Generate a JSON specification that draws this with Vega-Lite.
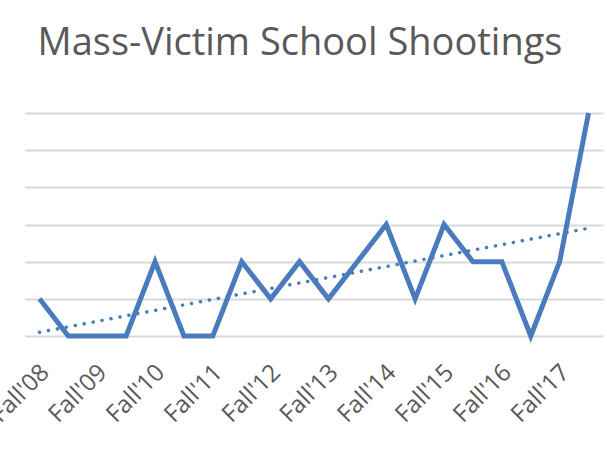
{
  "$schema": "https://vega.github.io/schema/vega-lite/v6.json",
  "width": 578,
  "height": 223,
  "autosize": "none",
  "padding": {"left": 25, "top": 113, "right": 4, "bottom": 118},
  "background": "white",
  "title": {
    "text": "Mass-Victim School Shootings",
    "font": "Open Sans",
    "fontSize": 38,
    "fontWeight": "normal",
    "color": "#595959",
    "anchor": "middle",
    "baseline": "alphabetic",
    "offset": 10,
    "dx": -14
  },
  "config": {
    "view": {"stroke": null},
    "axis": {"labelFont": "Open Sans", "labelColor": "#595959", "gridColor": "#d9d9d9", "gridWidth": 2}
  },
  "datasets": {
    "shootings": [
      {"semester": "Fall'08", "incidents": 1},
      {"semester": "Spring'09", "incidents": 0},
      {"semester": "Fall'09", "incidents": 0},
      {"semester": "Spring'10", "incidents": 0},
      {"semester": "Fall'10", "incidents": 2},
      {"semester": "Spring'11", "incidents": 0},
      {"semester": "Fall'11", "incidents": 0},
      {"semester": "Spring'12", "incidents": 2},
      {"semester": "Fall'12", "incidents": 1},
      {"semester": "Spring'13", "incidents": 2},
      {"semester": "Fall'13", "incidents": 1},
      {"semester": "Spring'14", "incidents": 2},
      {"semester": "Fall'14", "incidents": 3},
      {"semester": "Spring'15", "incidents": 1},
      {"semester": "Fall'15", "incidents": 3},
      {"semester": "Spring'16", "incidents": 2},
      {"semester": "Fall'16", "incidents": 2},
      {"semester": "Spring'17", "incidents": 0},
      {"semester": "Fall'17", "incidents": 2},
      {"semester": "Spring'18", "incidents": 6}
    ],
    "trend": [
      {"semester": "Fall'08", "incidents": 0.1},
      {"semester": "Spring'18", "incidents": 2.9}
    ]
  },
  "encoding": {
    "x": {
      "field": "semester",
      "type": "ordinal",
      "sort": null,
      "scale": {"type": "point", "padding": 0.5},
      "axis": {
        "title": null,
        "values": ["Fall'08", "Fall'09", "Fall'10", "Fall'11", "Fall'12", "Fall'13", "Fall'14", "Fall'15", "Fall'16", "Fall'17"],
        "labelAngle": -45,
        "labelAlign": "right",
        "labelBaseline": "top",
        "labelFontSize": 24,
        "labelPadding": 24,
        "labelOffset": -3,
        "labelBound": false,
        "labelOverlap": false,
        "domain": false,
        "ticks": false,
        "grid": false
      }
    },
    "y": {
      "field": "incidents",
      "type": "quantitative",
      "scale": {"domain": [0, 6], "nice": false},
      "axis": {
        "title": null,
        "values": [0, 1, 2, 3, 4, 5, 6],
        "labels": false,
        "ticks": false,
        "domain": false
      }
    }
  },
  "layer": [
    {
      "data": {"name": "shootings"},
      "mark": {"type": "line", "color": "#4a7cbd", "strokeWidth": 5, "strokeJoin": "miter"}
    },
    {
      "data": {"name": "trend"},
      "mark": {"type": "line", "color": "#4a7cbd", "strokeWidth": 3.5, "strokeDash": [0.1, 9], "strokeCap": "round"}
    }
  ]
}
